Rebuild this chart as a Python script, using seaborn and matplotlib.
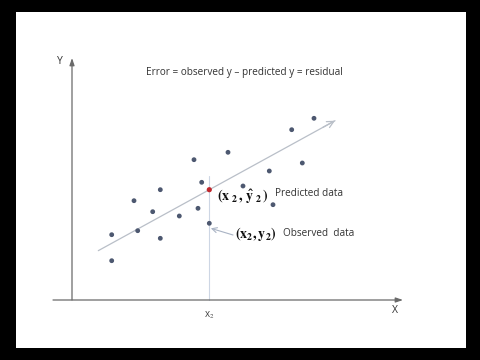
import matplotlib
matplotlib.use("Agg")
import matplotlib.pyplot as plt
import seaborn as sns
import numpy as np
import pandas as pd

sns.set_theme(style="white")
plt.rcParams['font.family'] = ['Open Sans', 'DejaVu Sans']
plt.rcParams['mathtext.fontset'] = 'stix'

# observed data (x, y)
obs_x = [3.97, 3.97, 6.2, 6.57, 8.07, 8.83, 8.83, 10.73, 12.2, 12.6, 12.97, 13.73,
         15.6, 17.1, 19.73, 20.1, 21.97, 23.03, 24.2]
obs_y = [6.53, 3.93, 9.93, 6.93, 8.83, 11.03, 6.17, 8.4, 14.03, 9.17, 11.77, 7.67,
         14.77, 11.4, 12.9, 9.53, 17.03, 13.7, 18.17]
# predicted point at x2
x2 = 13.73
pred_y2 = 11.03
obs_y2 = 7.67
# regression line endpoints (x) and coefficients
line_x = [2.63, 26.3]
slope = 0.549
intercept = 3.49

title_text = "Error = observed y \u2013 predicted y = residual"

fig = plt.figure(figsize=(4.8, 3.6), dpi=100, facecolor="black")
ax = fig.add_axes([16/480, 12/360, 450/480, 336/360])
ax.set_facecolor("white")
ax.set_xlim(-5.6, 39.4)
ax.set_ylim(-4.8, 28.8)
ax.axis("off")
ax.add_patch(plt.Rectangle((0, 0), 1, 1, transform=ax.transAxes, facecolor="white",
                           edgecolor="none", zorder=0))

axis_col = "#6a6a6a"
# axes with arrows
ax.annotate("", xy=(0, 24.2), xytext=(0, 0),
            arrowprops=dict(arrowstyle="-|>,head_length=0.35,head_width=0.12",
                            color=axis_col, lw=0.9, shrinkA=0, shrinkB=0))
ax.annotate("", xy=(33.1, 0), xytext=(-1.9, 0),
            arrowprops=dict(arrowstyle="-|>,head_length=0.35,head_width=0.12",
                            color=axis_col, lw=0.9, shrinkA=0, shrinkB=0))

# vertical guide at x2
ax.plot([x2, x2], [0, 12.4], color="#cdd6e4", lw=0.8, zorder=1)

# regression line
lx = np.array(line_x)
ly = intercept + slope * lx
line_df = pd.DataFrame({"x": lx, "y": ly})
sns.lineplot(data=line_df, x="x", y="y", ax=ax, color="#b9bfc8", lw=0.9, zorder=2)
ax.annotate("", xy=(lx[1], ly[1]), xytext=(lx[1] - 1.2, ly[1] - 1.2 * slope),
            arrowprops=dict(arrowstyle="->,head_length=0.4,head_width=0.2",
                            color="#b9bfc8", lw=0.9, shrinkA=0, shrinkB=0))

# observed points
df = pd.DataFrame({"x": obs_x, "y": obs_y})
sns.scatterplot(data=df, x="x", y="y", ax=ax, color="#4d5870", s=12,
                edgecolor="none", zorder=3)
# predicted point
sns.scatterplot(x=[x2], y=[pred_y2], ax=ax, color="#c0262b", s=14,
                edgecolor="none", zorder=4)

# arrow pointing to observed point
ax.annotate("", xy=(x2 + 0.15, obs_y2 - 0.5), xytext=(16.1, 6.5),
            arrowprops=dict(arrowstyle="->,head_length=0.3,head_width=0.15",
                            color="#a9b3c4", lw=0.8, shrinkA=0, shrinkB=0))

# texts
ax.text(17.2, 22.7, title_text, fontsize=7.2, color="#333333", ha="center", va="center")
ax.text(-1.2, 23.8, "Y", fontsize=7.5, color="#333333", ha="center", va="center")
ax.text(32.3, -1.05, "X", fontsize=7.5, color="#333333", ha="center", va="center")
ax.text(x2, -1.5, r"x$_2$", fontsize=7, color="#444444", ha="center", va="center")

ax.text(14.5, 10.3, r"$\mathbf{(x_{\ 2}\,,\,\hat{y}_{\ 2}\,)}$", fontsize=10,
        color="#111111", ha="left", va="center")
ax.text(20.3, 10.7, "Predicted data", fontsize=7.2, color="#333333", ha="left", va="center")
ax.text(16.3, 6.6, r"$\mathbf{(x_2,y_2)}$", fontsize=10, color="#111111",
        ha="left", va="center")
ax.text(21.1, 6.6, "Observed  data", fontsize=7.2, color="#333333", ha="left", va="center")

fig.savefig("out.png", dpi=100, facecolor="black")
